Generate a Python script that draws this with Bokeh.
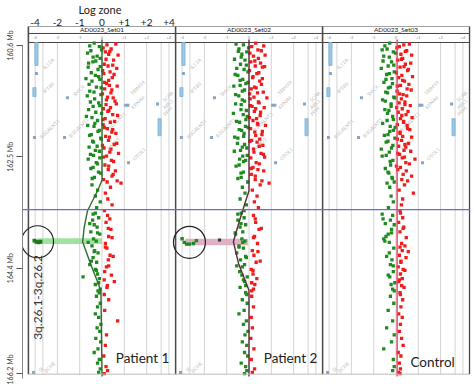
from bokeh.plotting import figure
from bokeh.models import Range1d, FixedTicker, Span
from bokeh.core.properties import value
from bokeh.embed import file_html
from bokeh.resources import INLINE

FONT = "Lato"

# ---------------- data ----------------
probe_mb = [
    160.56, 160.59, 160.62, 160.66, 160.69, 160.71, 160.75, 160.78, 160.82, 160.85,
    160.88, 160.92, 160.95, 160.97, 161.01, 161.05, 161.08, 161.11, 161.15, 161.18,
    161.21, 161.25, 161.28, 161.31, 161.34, 161.38, 161.41, 161.44, 161.48, 161.51,
    161.55, 161.58, 161.61, 161.64, 161.68, 161.71, 161.74, 161.78, 161.81, 161.85,
    161.88, 161.91, 161.95, 161.98, 162.02, 162.05, 162.08, 162.12, 162.15, 162.18,
    162.22, 162.25, 162.29, 162.32, 162.35, 162.39, 162.42, 162.46, 162.49, 162.52,
    162.56, 162.60, 162.64, 162.68, 162.72, 162.76, 162.80, 162.85, 162.89, 162.93,
    162.98, 163.02, 163.07, 163.12, 163.17, 163.22, 163.27, 163.32, 163.37, 163.42,
    163.46, 163.50, 163.54, 163.58, 163.62, 163.66, 163.70, 163.74, 163.78, 163.82,
    163.86, 163.90, 163.94, 163.98, 164.02, 164.06, 164.10, 164.14, 164.18, 164.22,
    164.26, 164.30, 164.34, 164.38, 164.42, 164.46, 164.50, 164.55, 164.60, 164.65,
    164.70, 164.76,
    164.82, 164.88, 164.94, 165.00, 165.06, 165.12, 165.18, 165.24, 165.30, 165.36,
    165.42, 165.48, 165.54, 165.60, 165.66, 165.72, 165.78, 165.84, 165.90, 165.96,
    166.02, 166.08, 166.12, 166.15, 166.18, 166.20,
    # second probe set
    160.575, 160.605, 160.64, 160.675, 160.70, 160.73, 160.765, 160.80, 160.835, 160.865,
    160.90, 160.935, 160.96, 160.99, 161.03, 161.065, 161.095, 161.13, 161.165, 161.195,
    161.23, 161.265, 161.295, 161.325, 161.36, 161.395, 161.425, 161.46, 161.495, 161.53,
    161.565, 161.595, 161.625, 161.66, 161.695, 161.725, 161.76, 161.795, 161.83, 161.865,
    161.895, 161.93, 161.965, 162.00, 162.035, 162.065, 162.10, 162.135, 162.165, 162.20,
    162.235, 162.27, 162.305, 162.335, 162.37, 162.405, 162.44, 162.475, 162.505, 162.54,
    162.58, 162.62, 162.66, 162.70, 162.74, 162.78, 162.83, 162.87, 162.91, 162.95,
    163.48, 163.56, 163.64, 163.72, 163.80, 163.88, 163.96, 164.04, 164.12, 164.20,
    164.28, 164.36, 164.44, 164.52, 164.58, 164.63, 164.68, 164.73, 164.79, 164.85,
]

patient1_ratio = [
    -0.35, 0.22, -0.12, 0.41, -0.50, 0.15, 0.30, -0.22, -0.08, 0.52,
    -0.41, 0.10, 0.27, -0.62, -0.18, 0.36, 0.08, -0.30, 0.46, -0.10,
    -0.45, 0.20, 0.33, -0.25, 0.12, -0.55, 0.40, -0.05, 0.25, -0.33,
    0.58, -0.15, 0.18, -0.40, 0.06, 0.31, -0.28, 0.48, -0.70, 0.14,
    -0.20, 0.37, 0.05, -0.36, 0.24, -0.12, 0.44, -0.48, 0.16, -0.06,
    0.29, -0.38, 0.55, -0.22, 0.09, -0.30, 0.35, -0.52, 0.20, -0.10,
    0.42, -0.26, 0.13, -0.40, 0.28, -0.16, 0.50, -0.34, 0.07, 0.23,
    -0.45, 0.38, -0.20, 0.15, -0.30, 0.26, -0.08, 0.45, -0.24, 0.11,
    -0.30, 0.25, -0.15, -0.42, 0.18, -0.35, -0.22, 0.40, -0.50, -0.10,
    0.30, -0.38, -0.26, 0.15, -0.45, 0.22, -0.33, -0.18, 0.36, -0.40,
    0.28, -0.24, -0.55, 0.20, -0.30, 0.12, -0.20, -0.85, 0.10, -0.15,
    0.24, -0.08,
    -0.12, -0.25, 0.30, -0.08, -0.20, 0.12, -0.30, -0.15, 0.70, -0.05,
    -0.22, -0.10, 0.20, -0.28, -0.06, 0.15, -0.18, -0.35, 0.08, -0.12,
    -0.20, 0.18, -0.08, 0.25, -0.15, 0.10,
    0.62, -0.55, 0.05, -0.02, 0.35, -0.65, 0.72, -0.40, 0.18, -0.28,
    -0.60, 0.48, -0.08, 0.66, 0.03, -0.48, 0.54, -0.15, -0.72, 0.30,
    0.12, -0.58, 0.68, -0.04, 0.44, -0.36, 0.02, -0.66, 0.50, 0.20,
    -0.52, 0.64, -0.10, 0.38, -0.60, 0.26, -0.02, 0.70, -0.45, 0.04,
    0.56, -0.32, -0.64, 0.10, 0.48, -0.18, 0.62, -0.56, 0.33, -0.03,
    -0.42, 0.66, 0.02, -0.58, 0.40, -0.12, 0.74, -0.38, 0.06, -0.62,
    0.52, -0.20, 0.30, -0.50, 0.60, -0.06, 0.45, -0.44, 0.68, 0.85,
    -0.40, 0.35, -0.55, 0.28, -0.20, 0.45, -0.62, 0.15, -0.35, 0.50,
    -0.48, 0.30, -0.25, 0.42, -0.12, 0.55, -0.30, 0.22, -0.18, 0.10,
]

patient2_ratio = [
    0.30, -0.25, 0.12, -0.45, 0.55, -0.10, -0.32, 0.20, 0.42, -0.18,
    0.08, -0.38, 0.28, 0.60, -0.22, -0.05, 0.35, -0.50, 0.16, -0.28,
    0.48, -0.14, -0.40, 0.25, 0.10, -0.30, 0.38, -0.60, 0.22, 0.05,
    -0.20, 0.45, -0.35, 0.14, 0.30, -0.12, 0.52, -0.26, -0.08, 0.34,
    0.18, -0.42, 0.40, -0.16, 0.07, -0.33, 0.26, 0.58, -0.24, -0.50,
    0.12, 0.36, -0.20, 0.46, -0.10, -0.38, 0.22, 0.65, -0.28, 0.08,
    -0.15, 0.32, -0.44, 0.18, 0.40, -0.25, 0.10, -0.35, 0.28, -0.06,
    0.50, -0.30, 0.15, -0.18, 0.36, -0.40, 0.24, -0.12, 0.42, -0.22,
    -0.35, 0.20, -0.22, -0.50, 0.30, -0.15, -0.40, 0.45, -0.28, -0.60,
    0.25, -0.32, -0.18, 0.38, -0.45, -0.25, 0.15, -0.55, 0.22, -0.12,
    -0.38, 0.32, -0.20, -0.30, 0.10, -0.42, 0.18, -0.08, -0.25, 0.12,
    -0.15, 0.20,
    -0.15, 0.12, -0.30, -0.08, 0.20, -0.22, -0.45, 0.10, -0.12, -0.25,
    0.15, -0.05, -0.18, 0.08, -0.30, -0.10, 0.22, -0.20, -0.06, 0.10,
    -0.35, -0.15, 0.25, -0.10, 0.15, -0.20,
    -0.58, 0.66, -0.02, 0.40, -0.48, 0.04, 0.72, -0.35, -0.65, 0.26,
    0.52, -0.12, 0.70, -0.55, 0.02, 0.44, -0.62, 0.18, 0.60, -0.40,
    -0.05, 0.56, -0.68, 0.32, -0.20, 0.64, 0.03, -0.46, 0.80, -0.30,
    0.42, -0.60, 0.06, 0.68, -0.36, 0.24, -0.70, 0.50, 0.02, -0.14,
    -0.56, 0.38, 0.74, -0.04, -0.44, 0.60, -0.22, 0.30, -0.64, 0.48,
    0.04, -0.52, 0.62, -0.30, 0.20, -0.66, 0.54, -0.08, 0.70, -0.42,
    -0.24, 0.46, -0.58, 0.10, 0.66, -0.36, 0.28, -0.50, 0.58, 0.90,
    -0.50, 0.28, -0.36, 0.55, -0.62, 0.20, -0.28, -0.45, 0.40, -0.15,
    0.50, -0.55, 0.18, -0.32, 0.35, -0.20, 0.26, -0.40, 0.12, -0.10,
]

control_ratio = [
    -0.28, 0.35, 0.15, -0.40, 0.48, -0.12, 0.22, -0.55, 0.30, 0.08,
    -0.20, 0.42, -0.35, 0.18, 0.55, -0.08, -0.30, 0.26, 0.12, -0.45,
    0.38, -0.16, 0.20, -0.25, 0.50, 0.05, -0.38, 0.32, -0.10, 0.24,
    -0.48, 0.14, 0.40, -0.22, 0.28, -0.32, 0.10, 0.45, -0.15, 0.20,
    -0.40, 0.34, 0.06, -0.26, 0.52, -0.12, 0.18, -0.36, 0.30, -0.05,
    0.25, -0.44, 0.40, 0.12, -0.20, 0.36, -0.30, 0.16, -0.62, 0.28,
    -0.14, 0.44, -0.24, 0.20, 0.08, -0.36, 0.32, -0.18, 0.26, -0.08,
    0.38, -0.28, 0.14, 0.78, -0.22, 0.30, -0.12, 0.24, -0.34, 0.18,
    0.20, -0.15, 0.30, -0.25, 0.12, -0.08, 0.35, -0.20, 0.18, -0.35,
    -0.45, -0.55, -0.50, 0.25, 0.40, -0.10, 0.28, -0.30, 0.15, 0.45,
    -0.18, 0.22, -0.25, 0.10, 0.32, -0.12, 0.20, -0.28, 0.15, -0.05,
    0.25, -0.15,
    0.18, -0.25, 0.30, -0.10, 0.22, -0.35, 0.12, 0.28, -0.15, 0.20,
    -0.42, 0.15, -0.08, 0.25, -0.20, 0.32, -0.55, 0.10, 0.22, -0.12,
    0.15, -0.08, 0.20, -0.15, 0.12, 0.18,
    0.60, -0.50, 0.04, -0.62, 0.42, -0.02, 0.70, -0.30, 0.24, -0.58,
    0.66, -0.10, 0.36, -0.66, 0.52, 0.02, -0.42, 0.74, -0.18, 0.30,
    -0.54, 0.58, 0.06, -0.34, 0.68, -0.46, 0.16, 0.48, -0.06, -0.60,
    0.40, -0.22, 0.64, 0.03, -0.50, 0.54, -0.38, 0.26, 0.72, -0.12,
    0.34, -0.60, 0.50, -0.04, 0.62, -0.28, 0.18, -0.52, 0.70, 0.06,
    -0.36, 0.56, -0.14, 0.44, -0.66, 0.66, 0.08, -0.44, 0.38, 0.85,
    -0.26, 0.60, 0.02, -0.48, 0.46, -0.32, 0.70, -0.16, 0.52, -0.40,
    -0.62, -0.58, -0.48, 0.32, -0.20, 0.46, -0.30, 0.18, 0.55, -0.42,
    0.22, -0.12, 0.40, -0.35, 0.28, 0.12, -0.22, 0.36, -0.08, 0.20,
]

panel_names = ["AD0023_Set01", "AD0023_Set02", "AD0023_Set03"]
panel_labels = ["Patient 1", "Patient 2", "Control"]
panel_ratios = [patient1_ratio, patient2_ratio, control_ratio]

zone_ticks = [-3, -2, -1, 0, 1, 2, 3]
zone_tick_labels = ["-4", "-2", "-1", "0", "+1", "+2", "+4"]
grid_zones = [-3.0, -2.65, -2.0, -1.0, 0.0, 1.0, 2.0, 2.65, 3.0]

y_ticks = [160.6, 162.5, 164.4, 166.2]
y_tick_labels = ["160.6 Mb", "162.5 Mb", "164.4 Mb", "166.2 Mb"]

# segmentation (smoothed) line knots
seg_mb = [160.50, 162.90, 163.08, 163.42, 163.71, 163.95, 164.32, 164.78, 166.25]
seg_p1 = [0.0, 0.0, -0.20, -0.65, -0.80, -0.87, -0.52, -0.05, 0.0]
seg_p2 = [0.0, 0.0, 0.0, -0.29, -0.52, -0.70, -0.47, 0.0, 0.0]
seg_ctrl = [0.05, 0.05, 0.05, 0.05, 0.05, 0.05, 0.05, 0.05, 0.05]
seg_lines = [seg_p1, seg_p2, seg_ctrl]
seg_colors = ["#2f6e2f", "#5a2b3e", "#e8406a"]

# called deletion (homozygous-loss probes)
del1_mb = [163.93, 163.95, 163.96, 163.95]
del1_x = [-3.03, -2.94, -2.85, -2.76]
del2_mb = [163.90, 163.96, 163.99, 163.99, 163.98, 163.93]
del2_x = [-3.00, -2.90, -2.80, -2.67, -2.49, -2.36]
del2_dark_mb = [163.92]
del2_dark_x = [-1.32]

# aberration bands (x from, x to, mb from, mb to)
band1 = [-2.90, 0.0, 163.89, 163.99]
band2 = [-2.85, -0.05, 163.90, 164.01]

# gene track (same in every panel)
gene_bar_x = [-2.94, -3.03, 2.58]
gene_bar_top = [160.55, 161.32, 161.85]
gene_bar_bot = [160.94, 161.47, 162.14]
gene_mark_x = [-2.94, -3.03, -1.55, -1.68, 1.06, 1.16, 2.49, 1.19, -3.07]
gene_mark_mb = [161.08, 162.17, 161.49, 162.17, 161.62, 161.62, 161.60, 162.60, 166.18]
gene_names = ["IL12A", "IFT80", "SMC4", "TRIM59", "KPNA4", "B3GALNT1", "B3GALNT1",
              "B3GALNT1", "NMD3", "OTOL1", "SCAR", "ARL1", "PPM", "SI", "BCHE"]
gene_x = [-2.40, -2.40, -1.05, 1.60, 1.60, -2.35, -1.05, 0.62, 0.50, 1.66, 2.95, 2.95, 2.95, -2.75, -2.35]
gene_mb = [160.91, 161.32, 161.37, 161.32, 161.57, 162.02, 162.00, 161.90, 162.28, 162.45,
           161.47, 161.60, 161.72, 166.13, 166.09]

BLUE_LINE_MB = 163.40
PANEL_OFFSET = [0.0, 6.59, 13.18]
HALF_W = 3.3
TOP_MB, HEAD_MID_MB, HEAD_BOT_MB, BOTTOM_MB = 160.276, 160.395, 160.549, 166.21

# ---------------- figure ----------------
p = figure(width=474, height=384,
           x_range=Range1d(-3.565, 16.52), y_range=Range1d(166.284, TOP_MB),
           output_backend="svg", toolbar_location=None,
           x_axis_location="above", title="Log zone",
           min_border_left=22, min_border_right=4, min_border_bottom=6, min_border_top=0)
p.outline_line_color = None
p.xgrid.visible = False
p.ygrid.visible = False

p.title.align = "left"
p.title.offset = 56
p.title.text_font = FONT
p.title.text_font_size = "11px"
p.title.text_font_style = "normal"
p.title.text_color = "#222222"
p.title.standoff = 0

xa = p.xaxis[0]
xa.ticker = FixedTicker(ticks=zone_ticks)
xa.major_label_overrides = {t: l for t, l in zip(zone_ticks, zone_tick_labels)}
xa.axis_line_color = None
xa.major_tick_line_color = None
xa.minor_tick_line_color = None
xa.major_tick_out = 0
xa.major_tick_in = 0
xa.major_label_standoff = 1
xa.major_label_text_font = FONT
xa.major_label_text_font_size = "10px"
xa.major_label_text_color = "#222222"

ya = p.yaxis[0]
ya.ticker = FixedTicker(ticks=y_ticks)
ya.bounds = (160.6, 166.284)
ya.major_label_overrides = {t: l for t, l in zip(y_ticks, y_tick_labels)}
ya.major_label_orientation = "vertical"
ya.major_label_text_font = FONT
ya.major_label_text_font_size = "7px"
ya.major_label_text_color = "#333333"
ya.major_label_standoff = 2
ya.axis_line_color = "#888888"
ya.major_tick_line_color = "#555555"
ya.major_tick_out = 6
ya.major_tick_in = 0
ya.minor_tick_line_color = None

for k, off in enumerate(PANEL_OFFSET):
    # grid lines
    gx = [off + g for g in grid_zones]
    p.segment(x0=gx, x1=gx, y0=[HEAD_BOT_MB] * len(gx), y1=[BOTTOM_MB] * len(gx),
              line_color="#d4d4d4", line_width=1)
    # header boxes
    p.quad(left=[off - HALF_W], right=[off + HALF_W], top=[TOP_MB], bottom=[HEAD_BOT_MB],
           fill_color="white", line_color="#444444", line_width=1)
    p.segment(x0=[off - HALF_W], x1=[off + HALF_W], y0=[HEAD_MID_MB], y1=[HEAD_MID_MB],
              line_color="#444444", line_width=1)
    p.text(x=[off], y=[(TOP_MB + HEAD_MID_MB) / 2], text=[panel_names[k]],
           text_align="center", text_baseline="middle", text_font=value(FONT),
           text_font_size=value("6.5px"), text_color="#222222")
    p.text(x=[off + t for t in zone_ticks], y=[(HEAD_MID_MB + HEAD_BOT_MB) / 2] * len(zone_ticks),
           text=zone_tick_labels, text_align="center", text_baseline="middle",
           text_font=value(FONT), text_font_size=value("4px"), text_color="#888888")
    # gene track
    p.quad(left=[off + x - 0.07 for x in gene_bar_x], right=[off + x + 0.07 for x in gene_bar_x],
           top=gene_bar_top, bottom=gene_bar_bot,
           fill_color="#9cc8e6", line_color="#7aaed6", line_width=0.8)
    p.scatter(x=[off + x for x in gene_mark_x], y=gene_mark_mb, marker="square", size=3,
              fill_color="#8aa4bf", line_color=None)
    p.text(x=[off + x for x in gene_x], y=gene_mb, text=gene_names, angle=0.785,
           text_align="center", text_baseline="middle", text_font=value(FONT),
           text_font_size=value("5px"), text_color="#c2c2c2")

# aberration bands
p.quad(left=[band1[0]], right=[band1[1]], top=[band1[2]], bottom=[band1[3]],
       fill_color="#90dc90", fill_alpha=0.85, line_color=None)
p.quad(left=[PANEL_OFFSET[1] + band2[0]], right=[PANEL_OFFSET[1] + band2[1]],
       top=[band2[2]], bottom=[band2[3]], fill_color="#d8a3bb", fill_alpha=0.85, line_color=None)

# probes
for k, off in enumerate(PANEL_OFFSET):
    r = panel_ratios[k]
    gx = [off + v for v in r if v < 0]
    gy = [m for m, v in zip(probe_mb, r) if v < 0]
    rx = [off + v for v in r if v >= 0]
    ry = [m for m, v in zip(probe_mb, r) if v >= 0]
    p.scatter(x=gx, y=gy, marker="square", size=3.3, fill_color="#1f8a1f", line_color=None)
    p.scatter(x=rx, y=ry, marker="square", size=3.3, fill_color="#f01c1c", line_color=None)
    p.line(x=[off + v for v in seg_lines[k]], y=seg_mb, line_color=seg_colors[k], line_width=1.4)

p.scatter(x=del1_x, y=del1_mb, marker="square", size=3.8, fill_color="#1a7a1a", line_color=None)
p.scatter(x=[PANEL_OFFSET[1] + v for v in del2_x], y=del2_mb, marker="square", size=3.4,
          fill_color="#1f8a1f", line_color=None)
p.scatter(x=[PANEL_OFFSET[1] + v for v in del2_dark_x], y=del2_dark_mb, marker="square", size=3,
          fill_color="#333333", line_color=None)

# panel separators
sep_x = [-HALF_W, HALF_W, PANEL_OFFSET[1] + HALF_W, PANEL_OFFSET[2] + HALF_W]
p.segment(x0=sep_x, x1=sep_x, y0=[TOP_MB] * 4, y1=[BOTTOM_MB] * 4,
          line_color="#4a4a4a", line_width=1.5)
p.segment(x0=[-HALF_W], x1=[PANEL_OFFSET[2] + HALF_W], y0=[BOTTOM_MB], y1=[BOTTOM_MB],
          line_color="#bbbbbb", line_width=1)

# circles around deletion calls
p.scatter(x=[-2.89, PANEL_OFFSET[1] - 2.67], y=[163.95, 163.96], marker="circle", size=32,
          fill_color=None, line_color="#222222", line_width=1.2)

# blue cursor line
p.add_layout(Span(location=BLUE_LINE_MB, dimension="width", line_color="#6b6bd2", line_width=1.2))

# annotations
p.text(x=[-2.89], y=[164.90], text=["3q.26.1-3q.26.2"], angle=1.5708,
       text_align="center", text_baseline="middle", text_font=value(FONT),
       text_font_size=value("12px"), text_color="#333333")
p.text(x=[1.82, PANEL_OFFSET[1] + 1.86, PANEL_OFFSET[2] + 1.64], y=[165.93, 165.93, 166.01],
       text=panel_labels, text_align="center", text_baseline="middle", text_font=value(FONT),
       text_font_size=value("13.5px"), text_color="#222222")

open("out.html", "w").write(file_html(p, INLINE))
